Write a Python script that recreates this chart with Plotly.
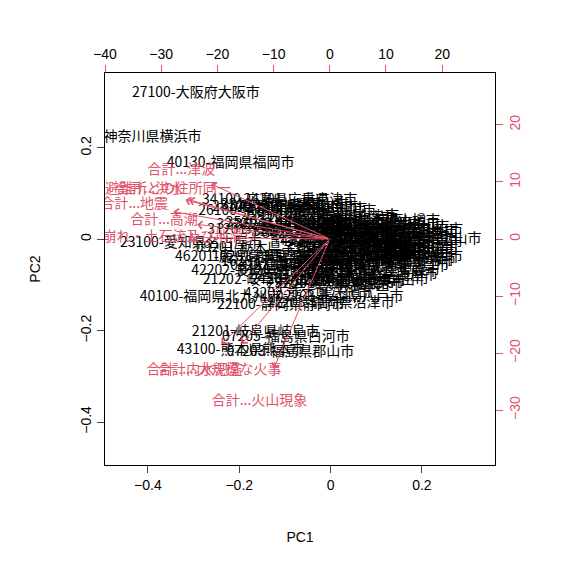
import plotly.graph_objects as go

# scores (PC1, PC2) and labels of municipalities
city = ["27100-大阪府大阪市", "14100-神奈川県横浜市", "40130-福岡県福岡市", "34100-広島県広島市",
        "24201-三重県津市", "23100-愛知県名古屋市", "40100-福岡県北九州市", "22100-静岡県静岡市",
        "21201-岐阜県岐阜市", "07205-福島県白河市", "43100-熊本県熊本市", "07203-福島県郡山市",
        "02203-青森県八戸市", "22203-静岡県沼津市", "46201-鹿児島県鹿児島市", "26100-京都府京都市",
        "28100-兵庫県神戸市", "33100-岡山県岡山市", "04100-宮城県仙台市", "01100-北海道札幌市",
        "15100-新潟県新潟市", "11100-埼玉県さいたま市", "12100-千葉県千葉市", "13104-東京都新宿区",
        "17201-石川県金沢市", "18201-福井県福井市", "19201-山梨県甲府市", "20201-長野県長野市",
        "25201-滋賀県大津市", "29201-奈良県奈良市", "30201-和歌山県和歌山市", "31201-鳥取県鳥取市",
        "32201-島根県松江市", "35203-山口県山口市", "36201-徳島県徳島市", "37201-香川県高松市",
        "38201-愛媛県松山市", "39201-高知県高知市", "41201-佐賀県佐賀市", "42201-長崎県長崎市",
        "44201-大分県大分市", "45201-宮崎県宮崎市", "47201-沖縄県那覇市", "05201-秋田県秋田市",
        "06201-山形県山形市", "08201-茨城県水戸市", "09201-栃木県宇都宮市", "10201-群馬県前橋市",
        "16201-富山県富山市", "03201-岩手県盛岡市", "01202-北海道函館市", "22130-静岡県浜松市",
        "24202-三重県四日市市", "23201-愛知県豊橋市", "28201-兵庫県姫路市", "34202-広島県呉市",
        "40202-福岡県大牟田市", "46203-鹿児島県鹿屋市", "02201-青森県青森市", "07201-福島県福島市",
        "42202-長崎県佐世保市", "43202-熊本県八代市", "21202-岐阜県大垣市", "22205-静岡県熱海市",
        "14130-神奈川県川崎市", "27140-大阪府堺市", "13201-東京都八王子市", "12203-千葉県市川市",
        "01203-北海道小樽市", "01204-北海道旭川市", "04202-宮城県石巻市", "08202-茨城県日立市",
        "11201-埼玉県川越市", "12202-千葉県銚子市", "15202-新潟県長岡市", "20202-長野県松本市",
        "26201-京都府福知山市", "28202-兵庫県尼崎市", "33202-岡山県倉敷市", "38202-愛媛県今治市",
        "44202-大分県別府市", "45202-宮崎県都城市", "47205-沖縄県宜野湾市", "06202-山形県米沢市"]
pc1 = [-0.295, -0.438, -0.219, -0.142, -0.066, -0.306, -0.263, -0.109,
       -0.164, -0.098, -0.197, -0.088, 0.020, 0.000, -0.170, -0.150,
       -0.120, -0.100, -0.080, -0.060, -0.040, -0.020, 0.000, 0.020,
       0.040, 0.060, 0.080, 0.100, 0.120, 0.140, 0.160, -0.130,
       -0.110, -0.090, -0.070, -0.050, -0.030, -0.010, 0.010, 0.030,
       0.050, 0.070, 0.090, 0.110, 0.130, 0.150, -0.140, -0.120,
       -0.100, -0.080, -0.060, -0.040, -0.020, 0.000, 0.020, 0.040,
       0.060, 0.080, 0.100, 0.120, -0.150, -0.050, -0.140, -0.030,
       0.010, 0.050, 0.090, 0.130,
       0.100, 0.120, 0.140, 0.150, 0.110, 0.130, 0.080, 0.060,
       0.090, 0.070, 0.040, 0.030, 0.150, 0.140, 0.120, 0.100]
pc2 = [0.319, 0.223, 0.166, 0.085, 0.085, -0.009, -0.127, -0.144,
       -0.203, -0.214, -0.243, -0.247, -0.127, -0.140, -0.040, 0.060,
       0.070, 0.075, 0.070, 0.065, 0.060, 0.050, 0.045, 0.040,
       0.035, 0.030, 0.020, 0.010, 0.005, 0.000, 0.000, 0.020,
       0.030, 0.035, 0.030, 0.020, 0.015, 0.010, 0.000, -0.005,
       -0.010, -0.015, -0.020, -0.030, -0.035, -0.040, -0.020, -0.040,
       -0.050, -0.060, -0.070, -0.080, -0.090, -0.100, -0.100, -0.095,
       -0.090, -0.080, -0.070, -0.060, -0.070, -0.120, -0.090, -0.060,
       -0.040, -0.050, -0.045, -0.020,
       0.040, 0.025, 0.015, -0.010, -0.015, -0.050, -0.030, -0.040,
       0.010, 0.000, -0.020, -0.060, 0.020, -0.025, -0.045, 0.030]

# variable loadings (label positions, top/right scale)
var = ["合計...津波", "指定避難所との住所同一", "合計...洪水", "合計...地震", "合計...高潮",
       "合計...崖崩れ・土石流及び地滑り", "合計...内水氾濫", "合計...大規模な火事", "合計...火山現象"]
load1 = [-26.4, -31.3, -32.1, -34.8, -29.5, -31.5, -24.1, -19.6, -12.5]
load2 = [12.1, 8.6, 8.6, 6.0, 3.2, 0.35, -23.0, -23.0, -28.4]

RED = "#DF536B"
FONT = "Noto Sans CJK JP"

fig = go.Figure()
fig.add_trace(go.Scatter(x=pc1, y=pc2, mode="text", text=city,
                         textfont=dict(family=FONT, size=14, color="black"),
                         cliponaxis=True, hoverinfo="skip"))
fig.add_trace(go.Scatter(x=load1, y=load2, mode="text", text=var, xaxis="x2", yaxis="y2",
                         textfont=dict(family=FONT, size=14, color=RED),
                         cliponaxis=True, hoverinfo="skip"))

for a, b in zip(load1, load2):
    fig.add_annotation(x=a * 0.8, y=b * 0.8, ax=0, ay=0, xref="x2", yref="y2",
                       axref="x2", ayref="y2", showarrow=True, arrowhead=4,
                       arrowsize=1.5, arrowwidth=1, arrowcolor=RED, text="")

tfont = dict(family="Liberation Sans", size=14, color="black")
ax = dict(showgrid=False, zeroline=False, ticks="outside", ticklen=7, showline=True,
          linecolor="black", automargin=False, tickfont=tfont)
ticks2 = [-40, -30, -20, -10, 0, 10, 20]
fig.update_layout(
    width=562, height=561, plot_bgcolor="white", paper_bgcolor="white",
    margin=dict(l=97, r=75, t=65, b=104), showlegend=False,
    xaxis=dict(ax, range=[-0.494, 0.36], tickvals=[-0.4, -0.2, 0.0, 0.2],
               title=dict(text="PC1", font=tfont, standoff=40)),
    yaxis=dict(ax, range=[-0.494, 0.364], tickvals=[-0.4, -0.2, 0.0, 0.2], tickangle=-90,
               title=dict(text="PC2", font=tfont, standoff=34)),
    xaxis2=dict(ax, overlaying="x", side="top", range=[-40.0, 29.4], tickvals=ticks2,
                tickcolor=RED),
    yaxis2=dict(ax, overlaying="y", side="right", range=[-39.6, 29.1], tickvals=ticks2,
                tickangle=-90, tickcolor=RED),
)
fig.update_layout(yaxis2_tickfont_color=RED)
fig.write_html("out.html")
